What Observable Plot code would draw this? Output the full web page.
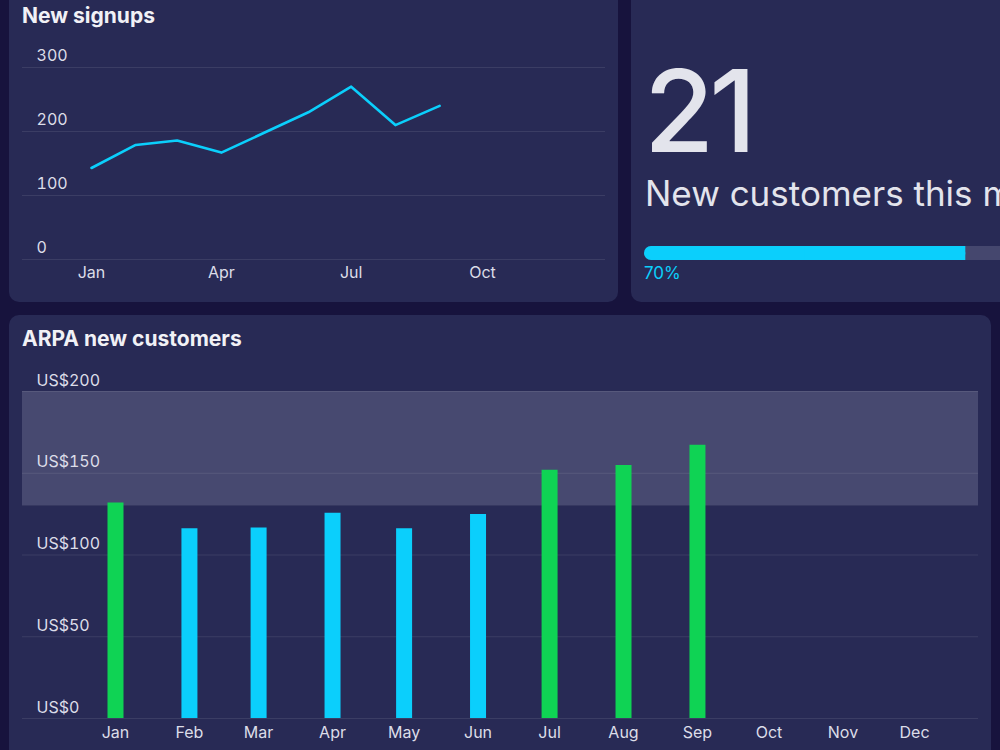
<!DOCTYPE html>
<html>
<head>
<meta charset="utf-8">
<script src="https://cdn.jsdelivr.net/npm/d3@7"></script>
<script src="https://cdn.jsdelivr.net/npm/@observablehq/plot@0.6"></script>
<style>
  html, body { margin: 0; padding: 0; }
  body {
    width: 1000px; height: 750px; overflow: hidden; position: relative;
    background: #17133d; font-family: "Inter", "Lato", sans-serif; color: #e2e3ec;
  }
  .panel { position: absolute; background: #282a55; border-radius: 10px; }
  .title { position: absolute; font-weight: 700; font-size: 21px; color: #f1f1f6; line-height: 1; white-space: nowrap; }
  .abs { position: absolute; }
  svg { overflow: visible; }
</style>
</head>
<body>
<div class="panel" style="left:9px; top:-20px; width:609px; height:322px;"></div>
<div class="panel" style="left:631px; top:-20px; width:420px; height:322px;"></div>
<div class="panel" style="left:9px; top:315px; width:982px; height:460px;"></div>

<div class="title" style="left:22px; top:5px;">New signups</div>
<div class="title" style="left:22px; top:328px;">ARPA new customers</div>

<div id="signups" class="abs" style="left:0; top:40px; width:620px;"></div>
<div id="kpi" class="abs" style="left:644px; top:54px; font-size:114px; font-weight:500; line-height:1; color:#e3e4ec; letter-spacing:-5px;"></div>
<div id="kpiLabel" class="abs" style="left:645px; top:176px; font-size:35px; font-weight:400; line-height:1; white-space:nowrap; color:#e3e4ec;"></div>
<div id="progress" class="abs" style="left:631px; top:240px; width:480px;"></div>
<div id="progressLabel" class="abs" style="left:644px; top:265px; font-size:17px; color:#0bcffc; line-height:1;"></div>
<div id="arpa" class="abs" style="left:0; top:360px; width:1000px;"></div>

<script>
// ---- data ----
const monthLabels = ["Jan","Feb","Mar","Apr","May","Jun","Jul","Aug","Sep","Oct","Nov","Dec"];
const signupValues = [143, 179, 186, 167, 198, 230, 270, 210, 240];   // Jan..Sep
const signupYTicks = [0, 100, 200, 300];
const signupXTickMonths = ["Jan", "Apr", "Jul", "Oct"];
const arpaValues = [131.8, 116.1, 116.5, 125.5, 116.1, 124.8, 151.8, 154.8, 167.1]; // Jan..Sep
const arpaYTicks = [0, 50, 100, 150, 200];
const arpaTargetLow = 130;
const arpaTargetHigh = 200;
const kpiValue = 21;
const kpiLabel = "New customers this month";
const progressPct = 70;

// ---- helpers ----
const year = 2024;
const monthDate = (m) => new Date(Date.UTC(year, monthLabels.indexOf(m), 1));
const fmtMonth = d3.utcFormat("%b");
const CYAN = "#0bcffc", GREEN = "#0fd354", TEXT = "#dcdde8", GRID = "rgba(255,255,255,0.09)";
const FONT = "Inter, Lato, sans-serif";

const signups = signupValues.map((v, i) => ({date: monthDate(monthLabels[i]), value: v}));
const arpa = arpaValues.map((v, i) => ({date: monthDate(monthLabels[i]), value: v}));

// ---- New signups line chart ----
const signupsChart = Plot.plot({
  width: 620, height: 250,
  marginLeft: 22, marginRight: 15, marginTop: 27, marginBottom: 31,
  style: {background: "transparent", color: TEXT, fontSize: "16px", fontFamily: FONT},
  x: {type: "utc", domain: [monthDate("Jan"), monthDate("Dec")], insetLeft: 69, insetRight: 36},
  y: {domain: [0, 300]},
  marks: [
    Plot.gridY(signupYTicks, {stroke: GRID, strokeOpacity: 1}),
    Plot.axisY(signupYTicks, {tickSize: 0, tickPadding: 0, textAnchor: "start", dx: 14, dy: -12, fill: TEXT, fontSize: 16, label: null}),
    Plot.axisX(signupXTickMonths.map(monthDate), {tickSize: 0, tickPadding: 7, tickFormat: fmtMonth, fill: TEXT, fontSize: 16, label: null}),
    Plot.line(signups, {x: "date", y: "value", stroke: CYAN, strokeWidth: 2.6})
  ]
});
document.getElementById("signups").appendChild(signupsChart);

// ---- KPI ----
document.getElementById("kpi").textContent = kpiValue;
document.getElementById("kpiLabel").textContent = kpiLabel;
document.getElementById("progressLabel").textContent = progressPct + "%";

const progressChart = Plot.plot({
  width: 480, height: 26,
  marginLeft: 13, marginRight: 8, marginTop: 6, marginBottom: 6,
  style: {background: "transparent"},
  x: {domain: [0, 100], axis: null},
  y: {axis: null},
  marks: [
    Plot.barX([{x1: 0, x2: 100}], {x1: "x1", x2: "x2", fill: "#45476e", rx: 7}),
    Plot.barX([{x1: 0, x2: progressPct}], {x1: "x1", x2: "x2", fill: CYAN, rx: 7}),
    Plot.barX([{x1: progressPct / 2, x2: progressPct}], {x1: "x1", x2: "x2", fill: CYAN})
  ]
});
document.getElementById("progress").appendChild(progressChart);

// ---- ARPA bar chart ----
const arpaChart = Plot.plot({
  width: 1000, height: 390,
  marginLeft: 22, marginRight: 22, marginTop: 31, marginBottom: 32,
  style: {background: "transparent", color: TEXT, fontSize: "16px", fontFamily: FONT},
  x: {type: "utc", domain: [monthDate("Jan"), monthDate("Dec")], insetLeft: 93, insetRight: 64},
  y: {domain: [0, 200]},
  marks: [
    Plot.rectY([{y1: arpaTargetLow, y2: arpaTargetHigh}], {y1: "y1", y2: "y2", fill: "#474970"}),
    Plot.gridY(arpaYTicks, {stroke: GRID, strokeOpacity: 1}),
    Plot.axisY(arpaYTicks, {tickSize: 0, tickPadding: 0, textAnchor: "start", dx: 14, dy: -11, tickFormat: d => "US$" + d, fill: TEXT, fontSize: 16, label: null}),
    Plot.axisX(monthLabels.map(monthDate), {tickSize: 0, tickPadding: 8, tickFormat: fmtMonth, fill: TEXT, fontSize: 16, label: null}),
    Plot.ruleX(arpa, {x: "date", y1: 0, y2: "value", strokeWidth: 16, stroke: d => d.value >= arpaTargetLow ? GREEN : CYAN})
  ]
});
document.getElementById("arpa").appendChild(arpaChart);
</script>
</body>
</html>
